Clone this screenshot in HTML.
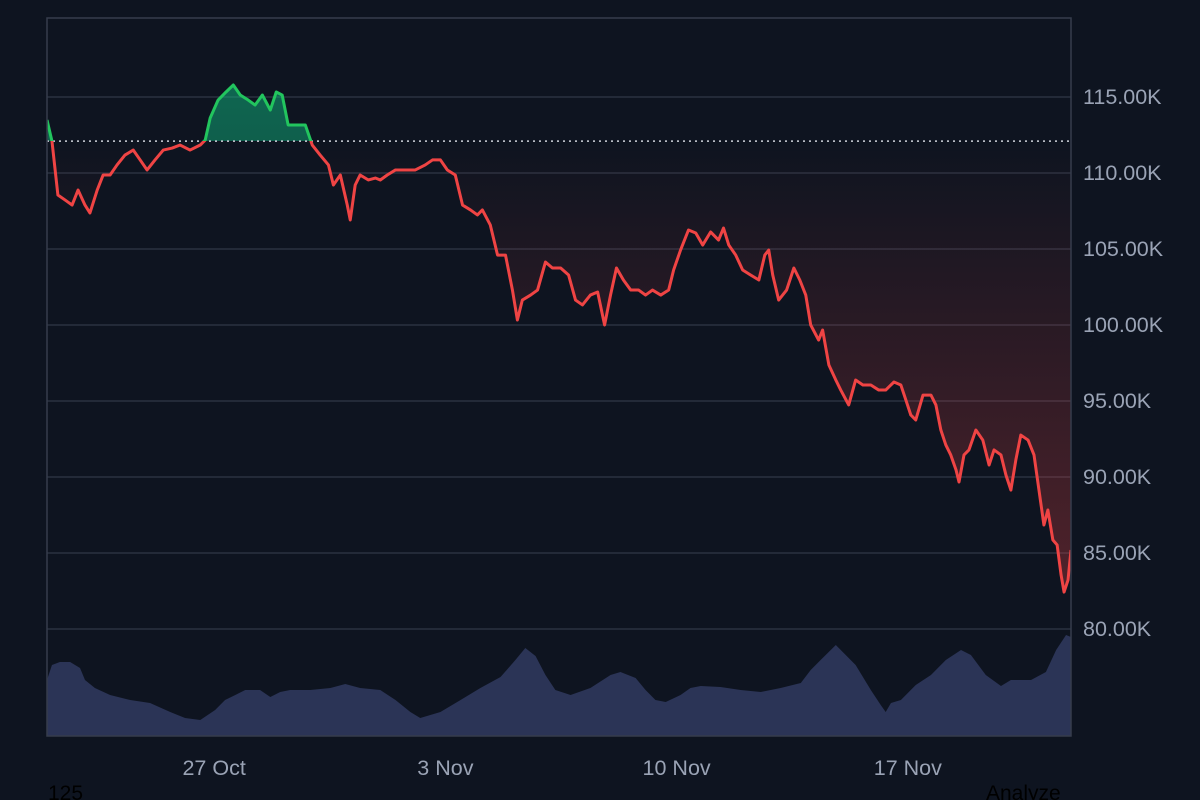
<!DOCTYPE html>
<html><head><meta charset="utf-8"><style>
html,body{margin:0;padding:0;background:#0e1420;}
svg{display:block;font-family:"Liberation Sans",sans-serif;}
</style></head><body>
<svg id="chart" width="1200" height="800">
<defs>
<linearGradient id="gGreen" x1="0" y1="0" x2="0" y2="1"><stop offset="0" stop-color="#10b981" stop-opacity="0.5"/><stop offset="1" stop-color="#10b981" stop-opacity="0.1"/></linearGradient>
<linearGradient id="gRed" gradientUnits="userSpaceOnUse" x1="0" y1="141" x2="0" y2="600"><stop offset="0" stop-color="#ef4444" stop-opacity="0"/><stop offset="1" stop-color="#ef4444" stop-opacity="0.3"/></linearGradient>
<clipPath id="above"><rect x="47" y="0" width="1024" height="141"/></clipPath>
<clipPath id="below"><rect x="47" y="141" width="1024" height="600"/></clipPath>
</defs>
<rect x="0" y="0" width="1200" height="800" fill="#0e1420"/>
<g id="grid"></g>
<g id="vol"></g>
<g id="series"></g>
<g id="axes"></g>
<text x="48" y="800" font-size="21" fill="#000">125</text>
<text x="986" y="800" font-size="21" fill="#000">Analyze</text>
</svg>
<script>
const days=[0,.15,.33,.55,.76,.94,1.15,1.3,1.52,1.7,1.91,2.12,2.36,2.61,2.82,3.03,3.27,3.52,3.79,4.03,4.33,4.64,4.79,4.94,5.18,5.42,5.64,5.85,6.09,6.3,6.52,6.76,6.94,7.12,7.3,7.55,7.82,8.03,8.27,8.52,8.67,8.88,9.09,9.18,9.33,9.48,9.73,9.94,10.09,10.3,10.55,10.85,11.15,11.45,11.67,11.91,12.12,12.36,12.58,12.82,13.03,13.18,13.42,13.64,13.88,14.09,14.24,14.39,14.64,14.85,15.09,15.3,15.55,15.79,16,16.21,16.45,16.67,16.88,17.06,17.24,17.45,17.67,17.91,18.12,18.33,18.58,18.82,18.97,19.18,19.42,19.64,19.85,20.09,20.33,20.48,20.64,20.85,21.06,21.3,21.55,21.73,21.85,21.97,22.15,22.39,22.61,22.79,22.97,23.12,23.36,23.48,23.67,23.88,24.03,24.27,24.48,24.7,24.94,25.18,25.39,25.64,25.85,26,26.15,26.3,26.52,26.76,26.91,27.06,27.21,27.36,27.52,27.61,27.76,27.91,28.12,28.33,28.52,28.67,28.88,29.03,29.18,29.33,29.48,29.7,29.88,30.03,30.18,30.3,30.45,30.58,30.7,30.79,30.91,31];
const prices=[113.49,112.1,108.55,108.22,107.89,108.88,107.89,107.37,108.88,109.87,109.87,110.53,111.18,111.51,110.86,110.2,110.86,111.51,111.64,111.84,111.51,111.84,112.17,113.62,114.8,115.33,115.79,115.13,114.8,114.47,115.13,114.14,115.33,115.13,113.16,113.16,113.16,111.84,111.18,110.53,109.21,109.87,107.89,106.91,109.21,109.87,109.54,109.67,109.54,109.87,110.2,110.2,110.2,110.53,110.86,110.86,110.2,109.87,107.89,107.57,107.24,107.57,106.58,104.6,104.6,102.3,100.33,101.64,101.97,102.3,104.14,103.75,103.75,103.29,101.64,101.32,101.97,102.17,100,101.97,103.75,102.96,102.3,102.3,101.97,102.3,101.97,102.3,103.62,104.93,106.25,106.05,105.26,106.12,105.59,106.38,105.26,104.6,103.62,103.29,102.96,104.6,104.93,103.29,101.64,102.3,103.75,102.96,101.97,100,99.01,99.67,97.37,96.38,95.72,94.74,96.38,96.05,96.05,95.72,95.72,96.25,96.05,95.07,94.08,93.75,95.39,95.39,94.74,93.09,92.11,91.45,90.46,89.67,91.45,91.78,93.09,92.43,90.79,91.78,91.45,90.13,89.14,91.12,92.76,92.43,91.45,89.14,86.84,87.83,85.86,85.53,83.55,82.43,83.22,85.2];
const volDays=[0,.15,.39,.7,1,1.15,1.45,1.91,2.52,3.12,3.73,4.18,4.64,5.09,5.39,5.7,6,6.45,6.76,7.06,7.36,7.97,8.58,9.03,9.48,10.09,10.55,11,11.3,11.91,12.52,13.12,13.73,14.18,14.48,14.79,15.09,15.39,15.85,16.45,17.06,17.36,17.82,18.12,18.42,18.73,19.18,19.48,19.79,20.39,21,21.61,22.21,22.82,23.12,23.42,23.88,24.18,24.48,24.94,25.24,25.39,25.55,25.85,26.3,26.76,27.21,27.67,27.97,28.42,28.88,29.18,29.79,30.24,30.55,30.85,31];
const volumes=[56,71,74,74,68,56,48,41,36,33,24,18,16,26,36,41,46,46,39,44,46,46,48,52,48,46,36,24,18,24,36,48,59,76,88,80,61,46,41,48,61,64,58,46,36,34,41,48,50,49,46,44,48,53,66,76,91,81,71,46,31,24,33,36,51,61,76,86,81,61,50,56,56,64,86,101,99];
const yTicks=[80,85,90,95,100,105,110,115];
const xTickDays=[5.06,12.06,19.06,26.06];
const xTickLabels=["27 Oct","3 Nov","10 Nov","17 Nov"];
const baseline=112.1;

const L=47,R=1071,T=18,B=736;
const X=d=>L+(d-days[0])/(days[days.length-1]-days[0])*(R-L);
const Y=p=>97+(115-p)*15.2;
const VY=v=>B-v;
const NS="http://www.w3.org/2000/svg";
function mk(tag,attrs,parent){const e=document.createElementNS(NS,tag);for(const k in attrs)e.setAttribute(k,attrs[k]);parent.appendChild(e);return e;}
const grid=document.getElementById('grid'),axes=document.getElementById('axes'),vol=document.getElementById('vol'),series=document.getElementById('series');
yTicks.forEach(t=>{
  const g=mk('line',{x1:L,x2:R,y1:Y(t),y2:Y(t),stroke:'#2a3140','stroke-width':1.5},grid);
  
  
  const tx=mk('text',{x:1083,y:Y(t)+7,'font-size':21.5,fill:'#9aa3b5'},axes);
  tx.textContent=t.toFixed(2)+'K';
  
  
});
xTickDays.forEach((d,i)=>{
  const tx=mk('text',{x:X(d),y:775,'font-size':21.5,fill:'#9aa3b5','text-anchor':'middle'},axes);
  tx.textContent=xTickLabels[i];
  
  
});
const frame=mk('path',{d:`M${L},${B} L${L},${T} L${R},${T} L${R},${B} Z`,fill:'none',stroke:'#363d4c','stroke-width':1.5},axes);


let vd=`M${X(volDays[0])},${B}`;
volDays.forEach((d,i)=>{vd+=` L${X(d)},${VY(volumes[i])}`;});
vd+=` L${X(volDays[volDays.length-1])},${B} Z`;
const va=mk('path',{d:vd,fill:'#2b3456'},vol);


let ld='';
days.forEach((d,i)=>{ld+=(i?' L':'M')+X(d)+','+Y(prices[i]);});
const by=Y(baseline);
const fd=`${ld} L${X(days[days.length-1])},${by} L${X(days[0])},${by} Z`;
const fg=mk('path',{d:fd,fill:'url(#gGreen)','clip-path':'url(#above)'},series);


const fr=mk('path',{d:fd,fill:'url(#gRed)','clip-path':'url(#below)'},series);


const bl=mk('line',{x1:L,x2:R,y1:by,y2:by,stroke:'#d0d4dc','stroke-width':1.5,'stroke-dasharray':'2 4'},series);


const lg=mk('path',{d:ld,fill:'none',stroke:'#22c55e','stroke-width':3,'stroke-linejoin':'round','clip-path':'url(#above)'},series);


const lr=mk('path',{d:ld,fill:'none',stroke:'#ef4444','stroke-width':3,'stroke-linejoin':'round','clip-path':'url(#below)'},series);


</script>
</body></html>
